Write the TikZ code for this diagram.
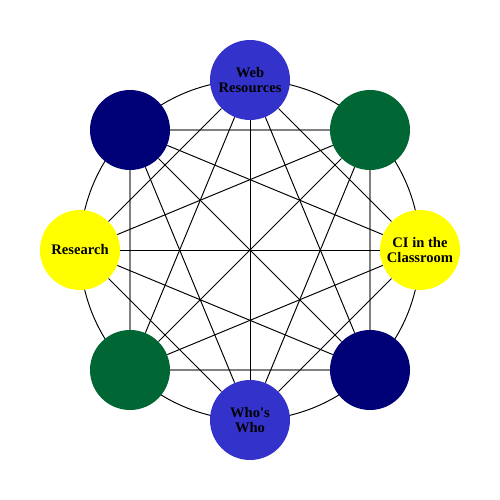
\documentclass[tikz,border=0pt]{standalone}
\usepackage{fontspec}
\setmainfont{Liberation Serif}
\definecolor{webblue}{HTML}{3333CC}
\definecolor{navyfill}{HTML}{000077}
\definecolor{greenfill}{HTML}{006633}
\definecolor{yellowfill}{HTML}{FFFF00}
\tikzset{
  hub/.style={circle,minimum size=1.6cm,inner sep=0pt,align=center,
    font=\fontsize{8.3}{8.8}\selectfont\bfseries},
  chord/.style={line width=0.55pt},
  square/.style={line width=0.7pt,gray}
}
\begin{document}
\begin{tikzpicture}
\useasboundingbox (-5,-5) rectangle (5,5);
% Outer ring through the centres
\coordinate (o) at (0,0);
\draw[chord] (o) circle (3.4);
% The eight discs
\node[hub,fill=webblue] (web) at (0,3.4) {Web\\Resources};
\node[hub,fill=greenfill] (greenA) at (2.4,2.4) {};
\node[hub,fill=yellowfill] (ci) at (3.4,0) {CI in the\\Classroom};
\node[hub,fill=navyfill] (navyB) at (2.4,-2.4) {};
\node[hub,fill=webblue] (who) at (0,-3.4) {Who\textquotesingle s\\Who};
\node[hub,fill=greenfill] (greenB) at (-2.4,-2.4) {};
\node[hub,fill=yellowfill] (research) at (-3.4,0) {Research};
\node[hub,fill=navyfill] (navyA) at (-2.4,2.4) {};
% Grey square between the dark discs
\draw[square] (navyA) -- (greenA) -- (navyB) -- (greenB) -- (navyA);
% Diamond through the text discs
\draw[chord] (web) -- (ci) -- (who) -- (research) -- (web);
% Chords that skip two discs
\draw[chord] (web) -- (navyB) (web) -- (greenB);
\draw[chord] (greenA) -- (who) (greenA) -- (research);
\draw[chord] (ci) -- (greenB) (ci) -- (navyA);
\draw[chord] (navyB) -- (research) (who) -- (navyA);
% Diameters
\draw[chord] (web) -- (who) (research) -- (ci);
\draw[chord] (navyA) -- (navyB) (greenA) -- (greenB);
\end{tikzpicture}
\end{document}
